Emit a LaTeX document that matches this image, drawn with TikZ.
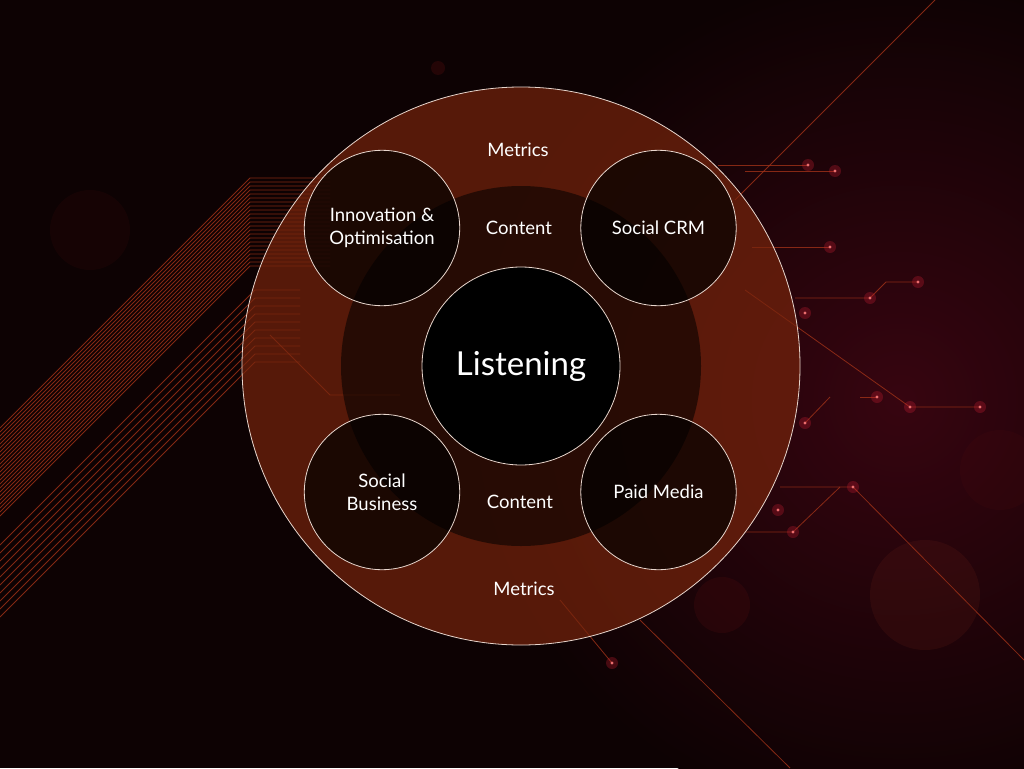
\documentclass[tikz,border=0pt]{standalone}
\usepackage{fontspec}
\setmainfont{Lato}
\begin{document}
\begin{tikzpicture}[x=1pt,y=1pt,yscale=-1,
  trace/.style={color={rgb, 255:red, 160; green, 50; blue, 24},line width=0.8,draw opacity=0.8},
  pad/.style={fill={rgb, 255:red, 235; green, 110; blue, 110},draw=none},
  glow/.style={fill={rgb, 255:red, 200; green, 30; blue, 50},fill opacity=0.3,draw=none},
  petal/.style={circle,draw={rgb, 255:red, 232; green, 214; blue, 205},line width=0.8,fill=black,fill opacity=0.68,text opacity=1,
    minimum size=155.4,inner sep=0,align=center,text=white,font=\fontsize{18.5}{23}\selectfont},
  tag/.style={text=white,font=\fontsize{18.5}{23}\selectfont}]
\useasboundingbox (0,0) rectangle (1024,768);

%Background
\begin{scope}
\clip (0,0) rectangle (1024,768);
\fill [color={rgb, 255:red, 13; green, 2; blue, 3}] (0,0) rectangle (1024,768);
\shade [inner color={rgb, 255:red, 55; green, 5; blue, 16},outer color={rgb, 255:red, 13; green, 2; blue, 3}] (900,400) circle (430);

%Bokeh
\fill [color={rgb, 255:red, 120; green, 40; blue, 25},opacity=0.16] (925,595) circle (55);
\fill [color={rgb, 255:red, 110; green, 20; blue, 20},opacity=0.16] (722,605) circle (28);
\fill [color={rgb, 255:red, 90; green, 15; blue, 15},opacity=0.12] (90,230) circle (40);
\fill [color={rgb, 255:red, 90; green, 15; blue, 15},opacity=0.12] (1000,470) circle (40);
\fill [color={rgb, 255:red, 90; green, 15; blue, 15},opacity=0.3] (438,68) circle (7);

%Left bundle
\foreach \i in {0,...,22}
  \draw [trace] (0,428+4*\i) -- (250,178+4*\i) -- (330,178+4*\i);
\foreach \i in {0,...,9}
  \draw [trace] (0,545+8*\i) -- (255,290+8*\i) -- (300,290+8*\i);
\draw [trace] (270,335) -- (330,395) -- (400,395);

%Right circuit
\draw [trace] (935,0) -- (735,200);
\draw [trace] (718,165) -- (808,165);
\draw [trace] (745,171) -- (835,171);
\draw [trace] (752,247) -- (830,247);
\draw [trace] (795,298) -- (870,298) -- (886,282) -- (918,282);
\draw [trace] (745,290) -- (910,407) -- (980,407);
\draw [trace] (860,397) -- (877,397);
\draw [trace] (830,397) -- (805,423);
\draw [trace] (780,487) -- (853,487) -- (1024,660);
\draw [trace] (745,532) -- (793,532) -- (840,487);
\draw [trace] (560,600) -- (612,663);
\draw [trace] (640,620) -- (790,768);
\foreach \p in {(808,165),(835,171),(830,247),(870,298),(918,282),(805,313),(910,407),(980,407),(877,397),(805,423),(853,487),(793,532),(778,510),(612,663)}
  { \fill [glow] \p circle (6); \fill [pad] \p circle (1.6); }
\end{scope}

%Outer Ring
\node [circle,minimum size=558,inner sep=0,fill={rgb, 255:red, 118; green, 36; blue, 12},fill opacity=0.7,draw={rgb, 255:red, 232; green, 214; blue, 205},draw opacity=1,line width=0.8] (ring) at (521,366) {};

%Content Disc
\fill [black,fill opacity=0.55] (ring.center) circle (180);

%Listening
\node [circle,minimum size=198,inner sep=0,fill=black,draw={rgb, 255:red, 232; green, 214; blue, 205},line width=0.8,text=white,font=\fontsize{33}{38}\selectfont] (listen) at (ring.center) {Listening};

%Petals
\node [petal] (innov) at (382,228) {Innovation \&\\Optimisation};
\node [petal] (crm) at (658.5,228) {Social CRM};
\node [petal] (business) at (382,492) {Social\\Business};
\node [petal] (paid) at (658.5,492) {Paid Media};

\node [tag] (metricsTop) at (518,150) {Metrics};
\node [tag] (contentTop) at (519,228) {Content};
\node [tag] (contentBot) at (520,502) {Content};
\node [tag] (metricsBot) at (524,589) {Metrics};

\end{tikzpicture}
\end{document}
